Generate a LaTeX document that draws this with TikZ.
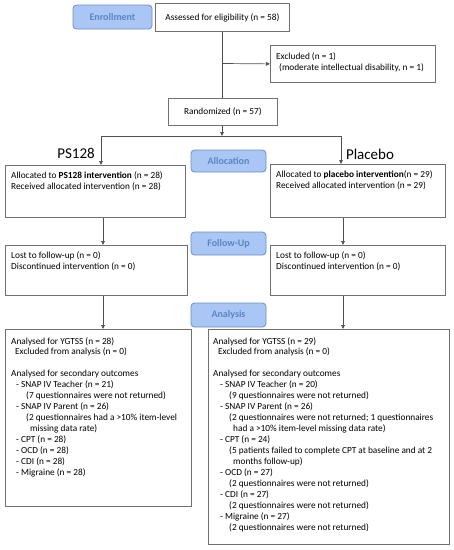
\documentclass[tikz,border=0pt]{standalone}
\usepackage{fontspec}
\setmainfont{Carlito}
\usetikzlibrary{arrows.meta,calc}
\definecolor{lblfill}{HTML}{A9C6F5}
\definecolor{lbldraw}{HTML}{6F8DC4}
\definecolor{lbltext}{HTML}{5A86C6}
\definecolor{boxdraw}{HTML}{707070}
\definecolor{linecol}{HTML}{505050}
\tikzset{
  box/.style={draw=boxdraw, line width=0.8pt, rectangle, anchor=north west, inner sep=0pt},
  lbl/.style={draw=lbldraw, fill=lblfill, line width=0.8pt, rounded corners=3.5pt, text=lbltext,
    font=\fontsize{10}{12}\selectfont\bfseries, inner sep=0pt},
  txt/.style={anchor=north west, inner sep=0pt, align=left, font=\fontsize{9.3}{10.95}\selectfont},
  ctxt/.style={inner sep=0pt, font=\fontsize{9.3}{10.95}\selectfont},
  arm/.style={font=\fontsize{15}{18}\selectfont, inner sep=0pt},
  conn/.style={draw=linecol, line width=0.7pt},
  arr/.style={conn, -{Triangle[length=4pt,width=3.6pt]}}
}
\begin{document}
\begin{tikzpicture}[x=1pt,y=-1pt]
\useasboundingbox (0,0) rectangle (454,550);
% label boxes
\node[lbl, minimum width=79pt, minimum height=24pt] (enr) at (112.5,17) {Enrollment};
\node[lbl, minimum width=75pt, minimum height=22pt] (alc) at (228.5,161) {Allocation};
\node[lbl, minimum width=75pt, minimum height=23pt] (fup) at (228.5,243.5) {Follow-Up};
\node[lbl, minimum width=75pt, minimum height=24pt] (ana) at (228.5,315) {Analysis};
% boxes
\node[box, minimum width=134pt, minimum height=28pt] (assess) at (155,3) {};
\node[ctxt] (assesst) at (assess.center) {Assessed for eligibility (n = 58)};
\node[box, minimum width=165pt, minimum height=37pt] (excl) at (270,45) {};
\node[txt] (exclt) at (276,52.5) {Excluded (n = 1)\\\hspace*{3pt}(moderate intellectual disability, n = 1)};
\node[box, minimum width=109pt, minimum height=27pt] (rand) at (168,98) {};
\node[ctxt] (randt) at (rand.center) {Randomized (n = 57)};
\node[arm] (ps) at (76,153) {PS128};
\node[arm] (pl) at (370,154) {Placebo};
\node[box, minimum width=180pt, minimum height=52pt] (allocL) at (5,165) {};
\node[txt] (allocLt) at (11,171.5) {Allocated to \textbf{PS128 intervention} (n = 28)\\Received allocated intervention (n = 28)};
\node[box, minimum width=175pt, minimum height=53pt] (allocR) at (270,164) {};
\node[txt] (allocRt) at (276,170.5) {Allocated to \textbf{placebo intervention}(n = 29)\\Received allocated intervention (n = 29)};
\node[box, minimum width=182pt, minimum height=50pt] (fuL) at (5,245) {};
\node[txt] (fuLt) at (11,251.5) {Lost to follow-up (n = 0)\\Discontinued intervention (n = 0)};
\node[box, minimum width=175pt, minimum height=50pt] (fuR) at (270,245) {};
\node[txt] (fuRt) at (276,251.5) {Lost to follow-up (n = 0)\\Discontinued intervention (n = 0)};
\node[box, minimum width=186pt, minimum height=177pt] (anL) at (5,329) {};
\node[txt] (anLt) at (11,337) {Analysed for YGTSS (n = 28)\\
\hspace*{4pt}Excluded from analysis (n = 0)\\[10.95pt]
Analysed for secondary outcomes\\
\hspace*{5pt}- SNAP IV Teacher (n = 21)\\
\hspace*{15pt}(7 questionnaires were not returned)\\
\hspace*{5pt}- SNAP IV Parent (n = 26)\\
\hspace*{15pt}(2 questionnaires had a >10\% item-level\\
\hspace*{19pt}missing data rate)\\
\hspace*{5pt}- CPT (n = 28)\\
\hspace*{5pt}- OCD (n = 28)\\
\hspace*{5pt}- CDI (n = 28)\\
\hspace*{5pt}- Migraine (n = 28)};
\node[box, minimum width=241pt, minimum height=215pt] (anR) at (208,329) {};
\node[txt] (anRt) at (213,337) {Analysed for YGTSS (n = 29)\\
\hspace*{5pt}Excluded from analysis (n = 0)\\[10.95pt]
Analysed for secondary outcomes\\
\hspace*{7pt}- SNAP IV Teacher (n = 20)\\
\hspace*{16pt}(9 questionnaires were not returned)\\
\hspace*{7pt}- SNAP IV Parent (n = 26)\\
\hspace*{16pt}(2 questionnaires were not returned; 1 questionnaires\\
\hspace*{20pt}had a >10\% item-level missing data rate)\\
\hspace*{7pt}- CPT (n = 24)\\
\hspace*{16pt}(5 patients failed to complete CPT at baseline and at 2\\
\hspace*{20pt}months follow-up)\\
\hspace*{7pt}- OCD (n = 27)\\
\hspace*{16pt}(2 questionnaires were not returned)\\
\hspace*{7pt}- CDI (n = 27)\\
\hspace*{16pt}(2 questionnaires were not returned)\\
\hspace*{7pt}- Migraine (n = 27)\\
\hspace*{16pt}(2 questionnaires were not returned)};
% connectors
\coordinate (branch) at (222,63.5);
\coordinate (split) at (222,136);
\draw[conn] (assess.south -| branch) -- (rand.north -| branch);
\draw[arr] (branch) -- (excl.west);
\draw[arr] (rand.south -| split) -- (split);
\draw[arr] (split) -| ([xshift=96pt]allocL.north west);
\draw[arr] (split) -| ([xshift=71pt]allocR.north west);
\draw[arr] ([xshift=98pt]allocL.south west) -- ([xshift=98pt]fuL.north west);
\draw[arr] ([xshift=73pt]allocR.south west) -- ([xshift=73pt]fuR.north west);
\draw[arr] ([xshift=98pt]fuL.south west) -- ([xshift=98pt]fuL.south west |- anL.north);
\draw[arr] ([xshift=73pt]fuR.south west) -- ([xshift=73pt]fuR.south west |- anR.north);
\end{tikzpicture}
\end{document}
